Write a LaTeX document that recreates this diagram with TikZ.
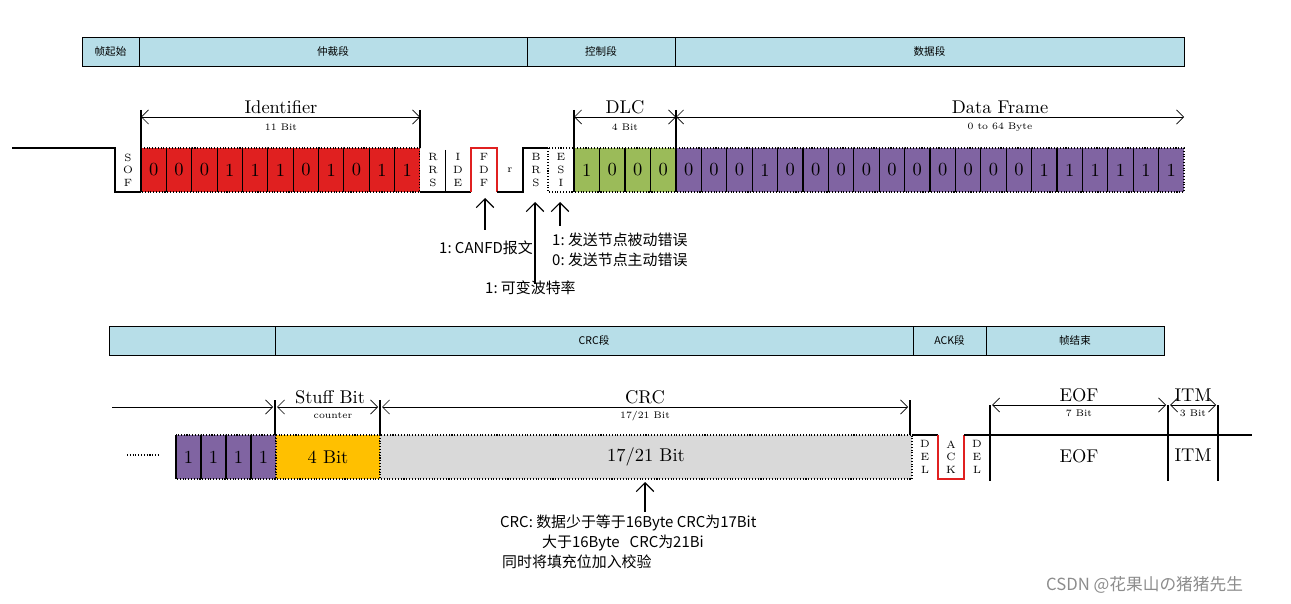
\documentclass[tikz,border=0pt]{standalone}
\usepackage{fontspec}
\newfontfamily\cjk{Noto Sans CJK SC}
\usetikzlibrary{arrows.meta}
\definecolor{hdr}{RGB}{183,222,232}
\definecolor{cred}{RGB}{224,32,32}
\definecolor{cgreen}{RGB}{155,187,89}
\definecolor{cpurp}{RGB}{128,100,162}
\definecolor{corange}{RGB}{255,192,0}
\definecolor{cgray}{RGB}{217,217,217}
\begin{document}
\begin{tikzpicture}[x=0.02cm,y=-0.02cm,
  hd/.style={draw=black,fill=hdr,line width=0.5pt},
  hdt/.style={font=\cjk\fontsize{6}{6}\selectfont},
  cell/.style={draw=black,densely dotted,line width=0.6pt},
  sig/.style={line width=1pt},
  dim/.style={{Straight Barb[length=4pt]}-{Straight Barb[length=4pt]},line width=0.4pt},
  big/.style={font=\fontsize{10.5}{10.5}\selectfont},
  sm/.style={font=\fontsize{5.5}{5.5}\selectfont},
  vl/.style={font=\fontsize{6}{7.2}\selectfont,align=center},
  note/.style={font=\cjk\fontsize{8.5}{10}\selectfont,anchor=west},
  up/.style={-{Straight Barb[length=5pt]},line width=0.7pt}]
\useasboundingbox (0,0) rectangle (1291,604);
% top header
\foreach \a/\b/\t [count=\i] in {82/139/帧起始,139/527/仲裁段,527/675/控制段,675/1184/数据段}{
  \draw[hd] (\a,37) rectangle (\b,66);
  \node[hdt] (h\i) at ({(\a+\b)/2},51.5) {\t};}
% row 1 signal
\draw[sig] (12,148) -- (115,148) -- (115,192) -- (141,192);
\node[vl] (sof) at (128,170) {S\\O\\F};
\foreach \d [count=\i] in {0,0,0,1,1,1,0,1,0,1,1}{
  \pgfmathsetmacro\xa{141+(\i-1)*25.36}
  \draw[cell,fill=cred] (\xa,148) rectangle ++(25.36,44);
  \draw[line width=0.6pt] (\xa,148) -- ++(0,44);
  \node[big] (id\i) at (\xa+12.7,170) {\d};}
\draw[sig] (420,192) -- (471,192);
\draw[line width=0.4pt] (445,150) -- (445,192);
\node[vl] (rrs) at (433,170) {R\\R\\S};
\node[vl] (ide) at (458,170) {I\\D\\E};
\draw[sig,draw=cred] (471,192) -- (471,148) -- (497,148) -- (497,192);
\node[vl] (fdf) at (484,170) {F\\D\\F};
\draw[sig] (497,192) -- (523,192) -- (523,148) -- (548,148);
\node[vl] (r) at (510,170) {r};
\node[vl] (brs) at (536,170) {B\\R\\S};
\draw[cell] (548,148) rectangle (574,192);
\node[vl] (esi) at (561,170) {E\\S\\I};
\foreach \d [count=\i] in {1,0,0,0}{
  \pgfmathsetmacro\xa{574+(\i-1)*25.5}
  \draw[cell,fill=cgreen] (\xa,148) rectangle ++(25.5,44);
  \draw[line width=0.6pt] (\xa,148) -- ++(0,44);
  \node[big] (dlc\i) at (\xa+12.75,170) {\d};}
\foreach \d [count=\i] in {0,0,0,1,0,0,0,0,0,0,0,0,0,0,1,1,1,1,1,1}{
  \pgfmathsetmacro\xa{676+(\i-1)*25.4}
  \draw[cell,fill=cpurp] (\xa,148) rectangle ++(25.4,44);
  \draw[line width=0.6pt] (\xa,148) -- ++(0,44);
  \node[big] (df\i) at (\xa+12.7,170) {\d};}
% dimension markers row 1
\draw[line width=0.7pt] (141,110) -- (141,148) (420,110) -- (420,148) (574,110) -- (574,148) (676,110) -- (676,148);
\coordinate (i1) at (141,117); \coordinate (i2) at (420,117);
\coordinate (d1) at (574,117); \coordinate (d2) at (676,117);
\coordinate (f1) at (676,117); \coordinate (f2) at (1184,117);
\draw[dim] (i1) -- (i2); \draw[dim] (d1) -- (d2); \draw[dim] (f1) -- (f2);
\node[big] (lid) at (281,107) {Identifier};
\node[sm] (lid2) at (281,127) {11 Bit};
\node[big] (ldlc) at (625,107) {DLC};
\node[sm] (ldlc2) at (625,127) {4 Bit};
\node[big] (ldf) at (1000,107) {Data Frame};
\node[sm] (ldf2) at (1000,127) {0 to 64 Byte};
% notes row 1
\node[note] (n1) at (433,248) {1:\ CANFD报文};
\node[note] (n2) at (546,240) {1:\ 发送节点被动错误};
\node[note] (n3) at (546,260) {0:\ 发送节点主动错误};
\node[note] (n4) at (479,288) {1:\ 可变波特率};
\coordinate (a1) at (485,230); \coordinate (a1e) at (485,198);
\coordinate (a2) at (535,284); \coordinate (a2e) at (535,202);
\coordinate (a3) at (560,226); \coordinate (a3e) at (560,202);
\draw[up] (a1) -- (a1e); \draw[up] (a2) -- (a2e); \draw[up] (a3) -- (a3e);
% bottom header
\foreach \a/\b/\t [count=\i] in {109/275/{},275/913/CRC段,913/986/ACK段,986/1164/帧结束}{
  \draw[hd] (\a,326) rectangle (\b,355);
  \node[hdt] (g\i) at ({(\a+\b)/2},340.5) {\t};}
% row 2
\draw[line width=0.6pt,densely dotted] (127,455) -- (160,455);
\foreach \i in {1,...,4}{
  \pgfmathsetmacro\xa{176+(\i-1)*25}
  \draw[cell,fill=cpurp] (\xa,435) rectangle ++(25,44);
  \draw[line width=0.6pt] (\xa,435) -- ++(0,44);
  \node[big] (p\i) at (\xa+12.5,457) {1};}
\draw[cell,fill=corange] (276,435) rectangle (380,479);
\node[big] (sb) at (328,457) {4 Bit};
\draw[cell,fill=cgray] (380,435) rectangle (912,479);
\node[big] (crc) at (646,457) {17/21 Bit};
\draw[sig] (912,435) -- (938,435);
\draw[sig,draw=cred] (938,435) -- (938,479) -- (964,479) -- (964,435);
\draw[sig] (964,435) -- (1252,435);
\node[vl] (del1) at (925,457) {D\\E\\L};
\node[vl] (ack) at (951,457) {A\\C\\K};
\node[vl] (del2) at (977,457) {D\\E\\L};
\node[big] (eof) at (1079,456) {EOF};
\node[big] (itm) at (1193,455) {ITM};
\draw[line width=0.7pt] (275,400) -- (275,435) (380,400) -- (380,435) (910,400) -- (910,435)
  (990,405) -- (990,481) (1168,405) -- (1168,481) (1218,405) -- (1218,481);
\coordinate (b0) at (112,407); \coordinate (b1) at (273,407);
\draw[-{Straight Barb[length=4pt]},line width=0.4pt] (b0) -- (b1);
\draw[dim] (277,407) -- (378,407);
\draw[dim] (382,407) -- (908,407);
\draw[dim] (992,405) -- (1166,405);
\draw[dim] (1170,405) -- (1216,405);
\node[big] (lsb) at (330,397) {Stuff Bit};
\node[sm] (lsb2) at (333,416) {counter};
\node[big] (lcrc) at (645,397) {CRC};
\node[sm] (lcrc2) at (645,416) {17/21 Bit};
\node[big] (leof) at (1079,395) {EOF};
\node[sm] (leof2) at (1079,413) {7 Bit};
\node[big] (litm) at (1193,395) {ITM};
\node[sm] (litm2) at (1193,413) {3 Bit};
\coordinate (c0) at (645,512); \coordinate (c1) at (645,482);
\draw[up] (c0) -- (c1);
\node[note] (m1) at (494,523) {CRC:\ 数据少于等于16Byte CRC为17Bit};
\node[note] (m2) at (536,543) {大于16Byte\ \ \ CRC为21Bi};
\node[note] (m3) at (496,562) {同时将填充位加入校验};
\node[note,text=black!45,font=\cjk\fontsize{9.5}{10}\selectfont] (wm) at (1040,585) {CSDN @花果山の猪猪先生};
\end{tikzpicture}
\end{document}
